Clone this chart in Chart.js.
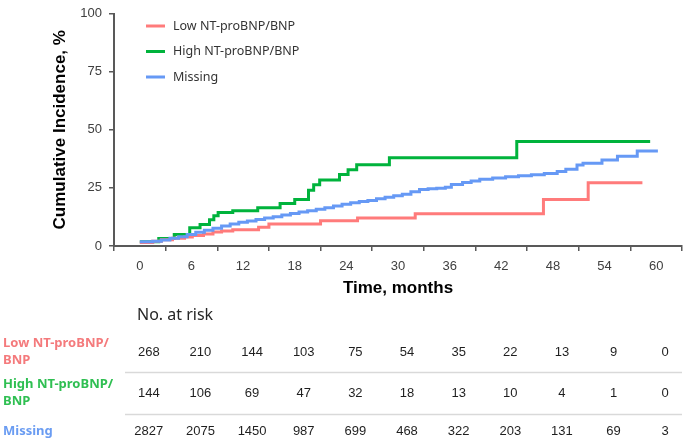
<!DOCTYPE html>
<html>
<head>
<meta charset="utf-8">
<script src="https://cdn.jsdelivr.net/npm/chart.js@4.4.1/dist/chart.umd.min.js"></script>
<style>
  html, body { margin: 0; padding: 0; background: #fff; }
  #wrap { width: 685px; height: 443px; position: relative; }
</style>
</head>
<body>
<div id="wrap"><canvas id="myChartCanvas"></canvas></div>
<script>
// x axis: months, y axis: cumulative incidence %
const xTickLabels = [0, 6, 12, 18, 24, 30, 36, 42, 48, 54, 60];
const yTickLabels = [0, 25, 50, 75, 100];
const seriesNames = ['Low NT-proBNP/BNP', 'High NT-proBNP/BNP', 'Missing'];
const tableNames = [['Low NT-proBNP/', 'BNP'], ['High NT-proBNP/', 'BNP'], ['Missing']];

const lowMonths    = [0, 1.5, 2.5, 3.8, 5.2, 6.1, 7.4, 8.5, 9.5, 10.8, 13.8, 15.0, 21.0, 25.3, 32.0, 46.9, 52.1, 58.4];
const lowIncidence = [1.5, 2.0, 2.7, 3.3, 3.9, 4.5, 5.2, 6.0, 6.4, 7.0, 8.1, 9.5, 10.9, 12.0, 13.9, 20.0, 27.2, 27.2];

const highMonths    = [0, 2.2, 4.0, 5.8, 7.0, 8.1, 8.6, 9.1, 10.8, 13.7, 16.3, 18.0, 19.6, 20.2, 20.9, 23.2, 24.2, 25.2, 29.0, 43.8, 59.3];
const highIncidence = [1.8, 3.2, 5.0, 7.8, 9.2, 11.3, 13.0, 14.4, 15.2, 16.5, 18.3, 20.0, 24.0, 26.3, 28.4, 30.7, 32.8, 35.0, 38.0, 45.0, 45.0];

const missMonths    = [0, 1.5, 2.5, 3.5, 4.5, 5.5, 6.5, 7.5, 8.5, 9.5, 10.5, 11.5, 12.5, 13.5, 14.5, 15.5, 16.5, 17.5, 18.5, 19.5,
                       20.5, 21.5, 22.5, 23.5, 24.5, 25.5, 26.5, 27.5, 28.5, 29.5, 30.5, 31.5, 32.5, 33.5, 34.5, 35.5, 36.2, 37.5,
                       38.5, 39.5, 41.0, 42.5, 44.0, 45.5, 47.0, 48.5, 49.5, 50.8, 51.5, 53.7, 55.5, 57.8, 60.2];
const missIncidence = [1.8, 2.0, 2.6, 3.3, 4.0, 5.0, 5.9, 6.8, 7.6, 8.6, 9.5, 10.2, 10.8, 11.4, 12.0, 12.6, 13.3, 14.0, 14.6, 15.2,
                       15.8, 16.5, 17.2, 18.0, 18.6, 19.1, 19.6, 20.3, 21.0, 21.6, 22.3, 23.3, 24.3, 24.6, 24.8, 25.3, 26.5, 27.3,
                       28.0, 28.7, 29.3, 29.8, 30.2, 30.6, 31.2, 32.0, 33.0, 34.8, 35.6, 37.0, 38.6, 40.9, 40.9];

const riskLow     = [268, 210, 144, 103, 75, 54, 35, 22, 13, 9, 0];
const riskHigh    = [144, 106, 69, 47, 32, 18, 13, 10, 4, 1, 0];
const riskMissing = [2827, 2075, 1450, 987, 699, 468, 322, 203, 131, 69, 3];

const colors = ['#FF7B7B', '#00B33C', '#6699F5'];
const tableColors = ['#F47A7C', '#2FBF52', '#6A9CF2'];
const axisColor = '#595959';

function toPoints(xs, ys) {
  return xs.map((x, i) => ({ x: x, y: ys[i] }));
}

const data = {
  datasets: [
    { label: seriesNames[0], data: toPoints(lowMonths, lowIncidence), borderColor: colors[0], order: 1 },
    { label: seriesNames[1], data: toPoints(highMonths, highIncidence), borderColor: colors[1], order: 2 },
    { label: seriesNames[2], data: toPoints(missMonths, missIncidence), borderColor: colors[2], order: 0 }
  ].map(d => Object.assign(d, { stepped: true, pointRadius: 0, borderWidth: 3, fill: false }))
};

// legend drawn inside the plot, top left
const insideLegend = {
  id: 'insideLegend',
  afterDraw(chart) {
    const ctx = chart.ctx;
    const area = chart.chartArea;
    ctx.save();
    ctx.font = '12.5px "Noto Sans"';
    ctx.textBaseline = 'middle';
    ctx.textAlign = 'left';
    chart.data.datasets.forEach((ds, i) => {
      const y = area.top + 12.5 + i * 25.5;
      ctx.strokeStyle = ds.borderColor;
      ctx.lineWidth = 3;
      ctx.beginPath();
      ctx.moveTo(area.left + 32, y);
      ctx.lineTo(area.left + 51, y);
      ctx.stroke();
      ctx.fillStyle = '#333333';
      ctx.fillText(ds.label, area.left + 59, y);
    });
    ctx.restore();
  }
};

// number-at-risk table under the x axis
const riskTable = {
  id: 'riskTable',
  afterDraw(chart) {
    const ctx = chart.ctx;
    const xs = chart.scales.x;
    const rows = [riskLow, riskHigh, riskMissing];
    const rowY = [352, 393, 431];
    ctx.save();
    ctx.textBaseline = 'middle';
    ctx.textAlign = 'left';
    ctx.fillStyle = '#262626';
    ctx.font = '16px "Noto Sans"';
    ctx.fillText('No. at risk', 137, 315);

    ctx.strokeStyle = '#D9D9D9';
    ctx.lineWidth = 1.5;
    [372.5, 414.5].forEach(y => {
      ctx.beginPath();
      ctx.moveTo(125, y);
      ctx.lineTo(xs.right, y);
      ctx.stroke();
    });

    rows.forEach((row, r) => {
      ctx.font = 'bold 13px "Noto Sans"';
      ctx.fillStyle = tableColors[r];
      ctx.textAlign = 'left';
      const lines = tableNames[r];
      lines.forEach((t, k) => {
        const y = lines.length === 1 ? rowY[r] : rowY[r] - 8.5 + k * 17;
        ctx.fillText(t, 3, y);
      });
      ctx.font = '13px "Liberation Sans", Arial';
      ctx.fillStyle = '#1f1f1f';
      ctx.textAlign = 'center';
      row.forEach((v, c) => {
        ctx.fillText(String(v), xs.getPixelForValue(xTickLabels[c]) + 9, rowY[r]);
      });
    });
    ctx.restore();
  }
};

const config = {
  type: 'line',
  data: data,
  options: {
    responsive: true,
    maintainAspectRatio: false,
    animation: false,
    layout: { padding: { top: 7, right: 3, left: 0, bottom: 141 } },
    plugins: {
      legend: { display: false },
      tooltip: { enabled: false }
    },
    scales: {
      x: {
        type: 'linear',
        min: -3,
        max: 63,
        afterBuildTicks: s => { s.ticks = xTickLabels.map(v => ({ value: v })); },
        afterFit: s => { s.height = 56; },
        grid: { offset: true, drawOnChartArea: false, tickLength: 5, color: axisColor, lineWidth: 1.5 },
        border: { color: axisColor, width: 2 },
        ticks: { color: '#404040', padding: 9, maxRotation: 0, font: { family: '"Liberation Sans", Arial', size: 13, lineHeight: 1 } },
        title: {
          display: true,
          text: 'Time, months',
          color: '#000',
          padding: { top: 0, bottom: 3 },
          font: { family: '"Liberation Sans", Arial', size: 17, weight: 'bold' }
        }
      },
      y: {
        min: 0,
        max: 100,
        afterBuildTicks: s => { s.ticks = yTickLabels.map(v => ({ value: v })); },
        afterFit: s => { s.width = 114; },
        grid: { drawOnChartArea: false, tickLength: 5, color: axisColor, lineWidth: 1.5 },
        border: { color: axisColor, width: 2 },
        ticks: { color: '#404040', padding: 7, font: { family: '"Liberation Sans", Arial', size: 13, lineHeight: 1 } },
        title: {
          display: true,
          text: 'Cumulative Incidence, %',
          color: '#000',
          padding: { top: 50, bottom: 0 },
          font: { family: '"Liberation Sans", Arial', size: 17, weight: 'bold' }
        }
      }
    }
  },
  plugins: [insideLegend, riskTable]
};

const canvasEl = document.getElementById('myChartCanvas');
const riskChart = new Chart(canvasEl, config);
</script>
</body>
</html>
